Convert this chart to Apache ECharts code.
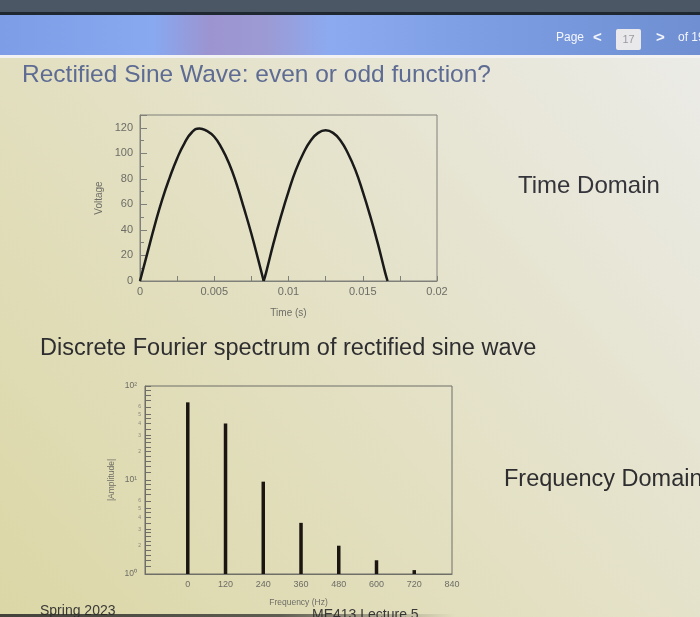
<!DOCTYPE html>
<html>
<head>
<meta charset="utf-8">
<script src="https://cdn.jsdelivr.net/npm/echarts@6/dist/echarts.min.js"></script>
<style>
  html, body { margin: 0; padding: 0; }
  #chart { width: 700px; height: 617px; }
</style>
</head>
<body>
<div id="chart"></div>
<script>
// Full-wave rectified sine, first half period (time in s, voltage)
const timeHump1 = [0, 0.0005, 0.001, 0.0015, 0.002, 0.0025, 0.003, 0.0035, 0.004, 0.0045,
                   0.005, 0.0055, 0.006, 0.0065, 0.007, 0.0075, 0.008, 0.00833];
const voltHump1 = [0, 22, 44, 64, 81, 96, 108, 116.5, 119.5, 117.5, 113, 104, 92, 76, 57, 37, 15, 0];
// second half period
const timeHump2 = [0.00833, 0.0085, 0.009, 0.0095, 0.01, 0.0105, 0.011, 0.0115, 0.012, 0.0125,
                   0.013, 0.0135, 0.014, 0.0145, 0.015, 0.0155, 0.016, 0.0165, 0.01667];
const voltHump2 = [0, 7, 30, 51, 70, 87, 100, 110, 116, 118, 116, 110, 100, 87, 70, 51, 30, 7, 0];

// Discrete spectrum: harmonic frequency (Hz) and |amplitude|
const freqHz = [0, 120, 240, 360, 480, 600, 720];
const amplitude = [67, 40, 9.6, 3.5, 2.0, 1.4, 1.1];

// Axis tick labels
const timeTickLabels = ['0', '0.005', '0.01', '0.015', '0.02'];
const voltTickLabels = ['0', '20', '40', '60', '80', '100', '120'];
const freqTickLabels = ['0', '120', '240', '360', '480', '600', '720', '840'];
const ampMajorLabels = ['10⁰', '10¹', '10²'];

const pair = (xs, ys) => xs.map((x, i) => [x, ys[i]]);

const ampMajorVals = [1, 10, 100];
const ampMinorLabelVals = [2, 3, 4, 5, 6, 20, 30, 40, 50, 60];
const ampTickVals = [];
[1, 10].forEach(d => {
  [1, 1.2, 1.4, 1.6, 1.8, 2, 2.25, 2.5, 2.75, 3, 3.5, 4, 4.5, 5, 6, 7, 8, 9].forEach(m => ampTickVals.push(m * d));
});
ampTickVals.push(100);

const grayText = '#6d6d66';
const font = '"Liberation Sans", Arial, sans-serif';

const chart = echarts.init(document.getElementById('chart'), null, { renderer: 'canvas' });

const option = {
  animation: false,
  backgroundColor: new echarts.graphic.LinearGradient(1, 0, 0, 1, [
    { offset: 0, color: '#ececea' },
    { offset: 0.35, color: '#e6e4d0' },
    { offset: 1, color: '#dcd7a6' }
  ]),
  graphic: [
    // window chrome
    { type: 'rect', shape: { x: 0, y: 0, width: 700, height: 13 }, style: { fill: '#4b5764' }, z: 1 },
    { type: 'rect', shape: { x: 0, y: 12, width: 700, height: 3 }, style: { fill: '#1f2730' }, z: 1 },
    {
      type: 'rect', shape: { x: 0, y: 15, width: 700, height: 40 }, z: 1,
      style: {
        fill: new echarts.graphic.LinearGradient(0, 0, 1, 0, [
          { offset: 0, color: '#7d9de6' },
          { offset: 0.22, color: '#88a8f0' },
          { offset: 0.3, color: '#9c94d0' },
          { offset: 0.38, color: '#9c9ad4' },
          { offset: 0.47, color: '#8caaf0' },
          { offset: 0.7, color: '#7c9de2' },
          { offset: 1, color: '#6f8fd2' }
        ])
      }
    },
    { type: 'rect', shape: { x: 0, y: 55, width: 700, height: 3 }, style: { fill: '#f2f2f2' }, z: 1 },
    { type: 'text', x: 556, y: 38, z: 2, style: { text: 'Page', fill: '#f4f6fb', font: '12px ' + font, textVerticalAlign: 'middle' } },
    { type: 'text', x: 593, y: 38, z: 2, style: { text: '<', fill: '#f4f6fb', font: 'bold 15px ' + font, textVerticalAlign: 'middle' } },
    { type: 'rect', shape: { x: 616, y: 29, width: 25, height: 21, r: 2 }, style: { fill: '#e9e9ec' }, z: 2 },
    { type: 'text', x: 628.5, y: 39.5, z: 3, style: { text: '17', fill: '#9a9aa0', font: '11px ' + font, textAlign: 'center', textVerticalAlign: 'middle' } },
    { type: 'text', x: 656, y: 38, z: 2, style: { text: '>', fill: '#f4f6fb', font: 'bold 15px ' + font, textVerticalAlign: 'middle' } },
    { type: 'text', x: 678, y: 38, z: 2, style: { text: 'of 19', fill: '#f4f6fb', font: '12px ' + font, textVerticalAlign: 'middle' } },

    // slide text
    { type: 'text', x: 22, y: 75, z: 2, style: { text: 'Rectified Sine Wave: even or odd function?', fill: '#5e6c93', font: '24.5px ' + font, textVerticalAlign: 'middle' } },
    { type: 'text', x: 518, y: 186, z: 2, style: { text: 'Time Domain', fill: '#34343a', font: '24px ' + font, textVerticalAlign: 'middle' } },
    { type: 'text', x: 40, y: 349, z: 2, style: { text: 'Discrete Fourier spectrum of rectified sine wave', fill: '#2e2e30', font: '23.5px ' + font, textVerticalAlign: 'middle' } },
    { type: 'text', x: 504, y: 480, z: 2, style: { text: 'Frequency Domain', fill: '#2e2e30', font: '23.5px ' + font, textVerticalAlign: 'middle' } },
    { type: 'text', x: 40, y: 611, z: 2, style: { text: 'Spring 2023', fill: '#3a3a38', font: '14px ' + font, textVerticalAlign: 'middle' } },
    { type: 'text', x: 312, y: 615, z: 2, style: { text: 'ME413 Lecture 5', fill: '#3a3a38', font: '14px ' + font, textVerticalAlign: 'middle' } },
    {
      type: 'rect', shape: { x: 0, y: 614, width: 700, height: 3 }, z: 3,
      style: {
        fill: new echarts.graphic.LinearGradient(0, 0, 1, 0, [
          { offset: 0, color: 'rgba(40,40,40,0.85)' },
          { offset: 0.4, color: 'rgba(40,40,40,0.7)' },
          { offset: 0.65, color: 'rgba(40,40,40,0.0)' },
          { offset: 1, color: 'rgba(40,40,40,0.0)' }
        ])
      }
    }
  ],
  grid: [
    { left: 140, right: 263, top: 115, bottom: 336, show: true, borderColor: '#80807a', borderWidth: 1, backgroundColor: 'transparent' },
    { left: 145, right: 248, top: 386, bottom: 43, show: true, borderColor: '#6f6f68', borderWidth: 1, backgroundColor: 'transparent' }
  ],
  xAxis: [
    {
      gridIndex: 0, type: 'value', min: 0, max: 0.02, interval: 0.0025,
      name: 'Time (s)', nameLocation: 'middle', nameGap: 27,
      nameTextStyle: { color: grayText, fontSize: 10, fontFamily: font },
      axisLine: { show: true, onZero: false, lineStyle: { color: '#80807a' } },
      axisTick: { show: true, inside: true, length: 5, lineStyle: { color: '#80807a' } },
      axisLabel: {
        color: grayText, fontSize: 11, fontFamily: font, margin: 5,
        formatter: v => {
          const k = Math.round(v / 0.0025);
          return k % 2 === 0 ? timeTickLabels[k / 2] : '';
        }
      },
      splitLine: { show: false }
    },
    {
      gridIndex: 1, type: 'value', min: -136, max: 840,
      name: 'Frequency (Hz)', nameLocation: 'middle', nameGap: 24,
      nameTextStyle: { color: grayText, fontSize: 8.5, fontFamily: font },
      axisLine: { show: true, onZero: false, lineStyle: { color: '#6f6f68' } },
      axisTick: { show: false },
      axisLabel: {
        color: grayText, fontSize: 9, fontFamily: font, margin: 6,
        customValues: freqTickLabels.map(Number),
        formatter: v => String(v)
      },
      splitLine: { show: false }
    }
  ],
  yAxis: [
    {
      gridIndex: 0, type: 'value', min: 0, max: 130, interval: 20,
      name: 'Voltage', nameLocation: 'middle', nameGap: 36,
      nameTextStyle: { color: grayText, fontSize: 10, fontFamily: font },
      axisLine: { show: true, onZero: false, lineStyle: { color: '#80807a' } },
      axisTick: { show: true, inside: true, length: 7, lineStyle: { color: '#80807a' } },
      minorTick: { show: true, splitNumber: 2, length: 4, lineStyle: { color: '#80807a' } },
      axisLabel: {
        color: grayText, fontSize: 11, fontFamily: font, margin: 7, showMaxLabel: false,
        formatter: v => voltTickLabels[Math.round(v / 20)] ?? ''
      },
      splitLine: { show: false }
    },
    {
      gridIndex: 1, type: 'log', logBase: 10, min: 1, max: 100,
      name: '|Amplitude|', nameLocation: 'middle', nameGap: 29,
      nameTextStyle: { color: grayText, fontSize: 8.5, fontFamily: font },
      axisLine: { show: true, onZero: false, lineStyle: { color: '#6f6f68' } },
      axisTick: { show: true, inside: true, length: 6, customValues: ampTickVals, lineStyle: { color: '#6f6f68' } },
      axisLabel: {
        fontFamily: font, margin: 4,
        customValues: ampMajorVals.concat(ampMinorLabelVals),
        formatter: v => {
          const mi = ampMajorVals.indexOf(v);
          if (mi >= 0) return '{maj|' + ampMajorLabels[mi] + '}';
          return '{min|' + (v >= 10 ? v / 10 : v) + '}';
        },
        rich: {
          maj: { color: grayText, fontSize: 8.5, padding: [0, 4, 0, 0] },
          min: { color: '#86867e', fontSize: 5 }
        }
      },
      splitLine: { show: false }
    }
  ],
  series: [
    {
      type: 'line', xAxisIndex: 0, yAxisIndex: 0, smooth: 0.5, showSymbol: false,
      data: pair(timeHump1, voltHump1),
      lineStyle: { color: '#1a1a1a', width: 2.5 }
    },
    {
      type: 'line', xAxisIndex: 0, yAxisIndex: 0, smooth: 0.5, showSymbol: false,
      data: pair(timeHump2, voltHump2),
      lineStyle: { color: '#1a1a1a', width: 2.5 }
    },
    {
      type: 'bar', xAxisIndex: 1, yAxisIndex: 1, barWidth: 3.5,
      data: pair(freqHz, amplitude),
      itemStyle: { color: '#1a1510' }
    }
  ]
};

chart.setOption(option);
</script>
</body>
</html>
